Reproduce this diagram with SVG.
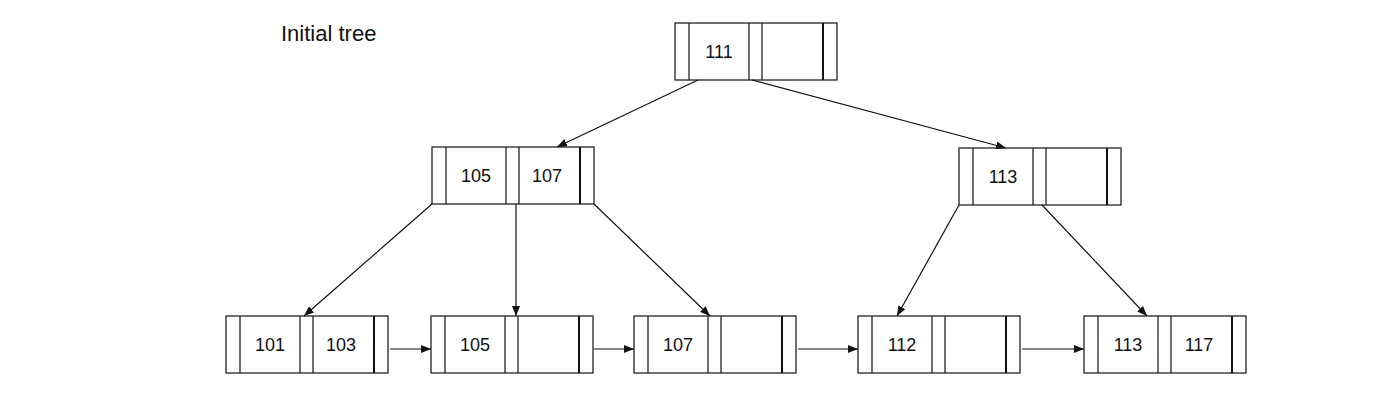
<svg xmlns="http://www.w3.org/2000/svg" width="1387" height="407" viewBox="0 0 1387 407">
<style>
.b{fill:#fff;stroke:#222;stroke-width:1.3}
.t{font-family:"Liberation Sans",Arial,sans-serif;font-size:18px;fill:#111;text-anchor:middle}
.c line{stroke:#111;stroke-width:1.2;marker-end:url(#a)}
</style>
<defs>
<marker id="a" markerWidth="10" markerHeight="8" refX="10" refY="4" orient="auto" markerUnits="userSpaceOnUse"><path d="M0,0L10,4L0,8z" fill="#111"/></marker>
<g id="n">
<rect class="b" x="0" y="0" width="162" height="57"/>
<line class="b" x1="14" y1="0" x2="14" y2="57"/>
<line class="b" x1="74" y1="0" x2="74" y2="57"/>
<line class="b" x1="87" y1="0" x2="87" y2="57"/>
<line x1="148" y1="0" x2="148" y2="57" stroke="#111" stroke-width="2"/>
</g>
</defs>
<rect width="1387" height="407" fill="#fff"/>
<text x="281" y="41" font-family="Liberation Sans,Arial,sans-serif" font-size="22" fill="#111">Initial tree</text>
<g id="root"><use href="#n" x="675" y="23"/><text class="t" x="719" y="58">111</text></g>
<g id="i1"><use href="#n" x="432" y="147"/><text class="t" x="476" y="182">105</text><text class="t" x="547" y="182">107</text></g>
<g id="i2"><use href="#n" x="959" y="148"/><text class="t" x="1003" y="183">113</text></g>
<g id="l1"><use href="#n" x="226" y="316"/><text class="t" x="270" y="351">101</text><text class="t" x="341" y="351">103</text></g>
<g id="l2"><use href="#n" x="431" y="316"/><text class="t" x="475" y="351">105</text></g>
<g id="l3"><use href="#n" x="634" y="316"/><text class="t" x="678" y="351">107</text></g>
<g id="l4"><use href="#n" x="858" y="316"/><text class="t" x="902" y="351">112</text></g>
<g id="l5"><use href="#n" x="1084" y="316"/><text class="t" x="1128" y="351">113</text><text class="t" x="1199" y="351">117</text></g>
<g class="c">
<line x1="698" y1="80" x2="557" y2="147"/>
<line x1="752" y1="80" x2="1006" y2="148"/>
<line x1="432" y1="204" x2="304" y2="316"/>
<line x1="516" y1="204" x2="516" y2="316"/>
<line x1="594" y1="204" x2="710" y2="316"/>
<line x1="959" y1="205" x2="897" y2="316"/>
<line x1="1042" y1="205" x2="1147" y2="316"/>
<line x1="390" y1="349" x2="431" y2="349"/>
<line x1="594" y1="349" x2="634" y2="349"/>
<line x1="798" y1="349" x2="858" y2="349"/>
<line x1="1022" y1="349" x2="1084" y2="349"/>
</g>
</svg>
